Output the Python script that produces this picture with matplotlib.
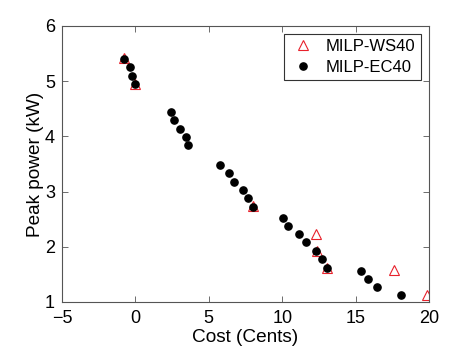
import matplotlib
matplotlib.use("Agg")
import matplotlib.pyplot as plt

# MILP-WS40 (red open triangles)
ws_cost = [-0.8, 0.0, 8.0, 12.3, 12.4, 13.05, 17.6, 19.85]
ws_power = [5.42, 4.95, 2.74, 2.23, 1.93, 1.62, 1.58, 1.12]

# MILP-EC40 (black dots)
ec_cost = [-0.78, -0.35, -0.26, 0.0, 2.44, 2.65, 3.06, 3.42, 3.58,
           5.76, 6.39, 6.71, 7.30, 7.68, 8.0,
           10.04, 10.40, 11.15, 11.63, 12.31, 12.72, 13.02,
           15.40, 15.85, 16.46, 18.12]
ec_power = [5.40, 5.25, 5.10, 4.95, 4.44, 4.29, 4.14, 3.99, 3.84,
            3.49, 3.34, 3.18, 3.03, 2.88, 2.73,
            2.53, 2.38, 2.23, 2.08, 1.93, 1.77, 1.62,
            1.57, 1.42, 1.27, 1.12]

plt.rcParams['font.family'] = ['Liberation Sans', 'DejaVu Sans']

fig = plt.figure(figsize=(4.74, 3.55), dpi=100)
ax = fig.add_axes([62 / 474, 1 - 302 / 355, 367 / 474, 276 / 355])

ax.plot(ws_cost, ws_power, linestyle='none', marker='^', markersize=7.5,
        markerfacecolor='none', markeredgecolor='#e8212b', markeredgewidth=0.8,
        label='MILP-WS40')
ax.plot(ec_cost, ec_power, linestyle='none', marker='o', markersize=5.2,
        color='black', label='MILP-EC40')

ax.set_xlim(-5, 20)
ax.set_ylim(1, 6)
ax.set_xticks([-5, 0, 5, 10, 15, 20])
ax.set_yticks([1, 2, 3, 4, 5, 6])
ax.tick_params(direction='in', top=True, right=True, length=4,
               color='#555555', labelsize=13, width=0.6)
ax.tick_params(axis='x', pad=6)
ax.tick_params(axis='y', pad=5)
for s in ax.spines.values():
    s.set_color('#555555')
    s.set_linewidth(0.8)

ax.set_xlabel('Cost (Cents)', fontsize=13.7, labelpad=1)
ax.set_ylabel('Peak power (kW)', fontsize=13.7, labelpad=1)

leg = ax.legend(loc='upper right', fontsize=12, fancybox=False,
                framealpha=1, borderaxespad=0.5, handletextpad=0.6,
                handlelength=1.6, borderpad=0.3, labelspacing=0.35)
leg.get_frame().set_edgecolor('#333333')
leg.get_frame().set_linewidth(0.8)

fig.savefig('out.png', dpi=100)
